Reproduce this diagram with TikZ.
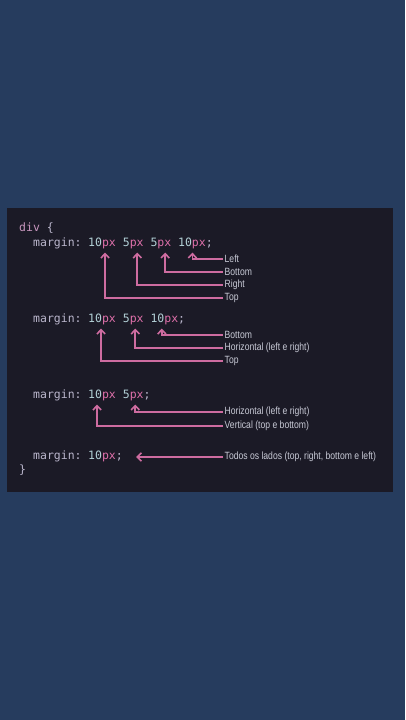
\documentclass[tikz,border=0pt]{standalone}
\usepackage{fontspec}
\setmonofont{DejaVu Sans Mono}
\newfontfamily\labelfont[FakeStretch=0.82]{Liberation Sans}
\usetikzlibrary{arrows.meta,positioning}
\definecolor{PageBg}{RGB}{38,60,94}
\definecolor{PanelBg}{RGB}{27,26,38}
\definecolor{CodeTxt}{RGB}{186,182,204}
\definecolor{KeyC}{RGB}{200,150,190}
\definecolor{NumC}{RGB}{178,208,214}
\definecolor{PxC}{RGB}{222,112,170}
\definecolor{ArrowC}{RGB}{206,108,160}
\definecolor{LblTxt}{RGB}{200,202,214}
\tikzset{
  code/.style={font=\ttfamily\fontsize{11.5}{13}\selectfont,text=CodeTxt,
               inner sep=0pt,anchor=base west},
  val/.style={code},
  lbl/.style={font=\labelfont\fontsize{10.5}{12}\selectfont,text=LblTxt,
              inner sep=1.5pt,anchor=west},
  ptr/.style={-{Straight Barb[length=1.5mm,width=2.9mm]},line width=1.6pt,
              ArrowC,shorten >=4pt},
  ptrl/.style={ptr,shorten >=0pt},
}
\newcommand\pxval[1]{\textcolor{NumC}{#1}\textcolor{PxC}{px}}
\begin{document}
\begin{tikzpicture}[x=1pt,y=-1pt]
  \fill[PageBg] (0,0) rectangle (405,720);
  \fill[PanelBg] (7,208) rectangle (393,492);
  % code
  \node[code] (div) at (19,231) {\textcolor{KeyC}{div} \{};
  \node[code] (m1) at (33,246) {margin:};
  \node[val] (v11) at (88,246) {\pxval{10}};
  \node[val] (v12) at (122.7,246) {\pxval{5}};
  \node[val] (v13) at (150.3,246) {\pxval{5}};
  \node[val] (v14) at (177.9,246) {\pxval{10};};
  \node[code] (m2) at (33,322) {margin:};
  \node[val] (v21) at (88,322) {\pxval{10}};
  \node[val] (v22) at (122.7,322) {\pxval{5}};
  \node[val] (v23) at (150.3,322) {\pxval{10};};
  \node[code] (m3) at (33,398) {margin:};
  \node[val] (v31) at (88,398) {\pxval{10}};
  \node[val] (v32) at (122.7,398) {\pxval{5};};
  \node[code] (m4) at (33,459) {margin:};
  \node[val] (v41) at (88,459) {\pxval{10};};
  \node[code] (close) at (19,473.5) {\}};
  % labels
  \node[lbl] (l11) at (223,259) {Left};
  \node[lbl] (l12) at (223,272) {Bottom};
  \node[lbl] (l13) at (223,285) {Right};
  \node[lbl] (l14) at (223,298) {Top};
  \node[lbl] (l21) at (223,335) {Bottom};
  \node[lbl] (l22) at (223,348) {Horizontal (left e right)};
  \node[lbl] (l23) at (223,361) {Top};
  \node[lbl] (l31) at (223,412) {Horizontal (left e right)};
  \node[lbl] (l32) at (223,426) {Vertical (top e bottom)};
  \node[lbl] (l41) at (223,457) {Todos os lados (top, right, bottom e left)};
  % pointers
  \draw[ptr] (l11.west) -| ([xshift=-3pt]v14.south);
  \draw[ptr] (l12.west) -| ([xshift=4.3pt]v13.south);
  \draw[ptr] (l13.west) -| ([xshift=4pt]v12.south);
  \draw[ptr] (l14.west) -| ([xshift=3pt]v11.south);
  \draw[ptr] (l21.west) -| ([xshift=-6pt]v23.south);
  \draw[ptr] (l22.west) -| ([xshift=2pt]v22.south);
  \draw[ptr] (l23.west) -| ([xshift=-1pt]v21.south);
  \draw[ptr] (l31.west) -| ([xshift=-1.5pt]v32.south);
  \draw[ptr] (l32.west) -| ([xshift=-5pt]v31.south);
  \coordinate[right=13pt of v41.east] (t41);
  \draw[ptrl] (l41.west) -- (l41.west -| t41);
\end{tikzpicture}
\end{document}
